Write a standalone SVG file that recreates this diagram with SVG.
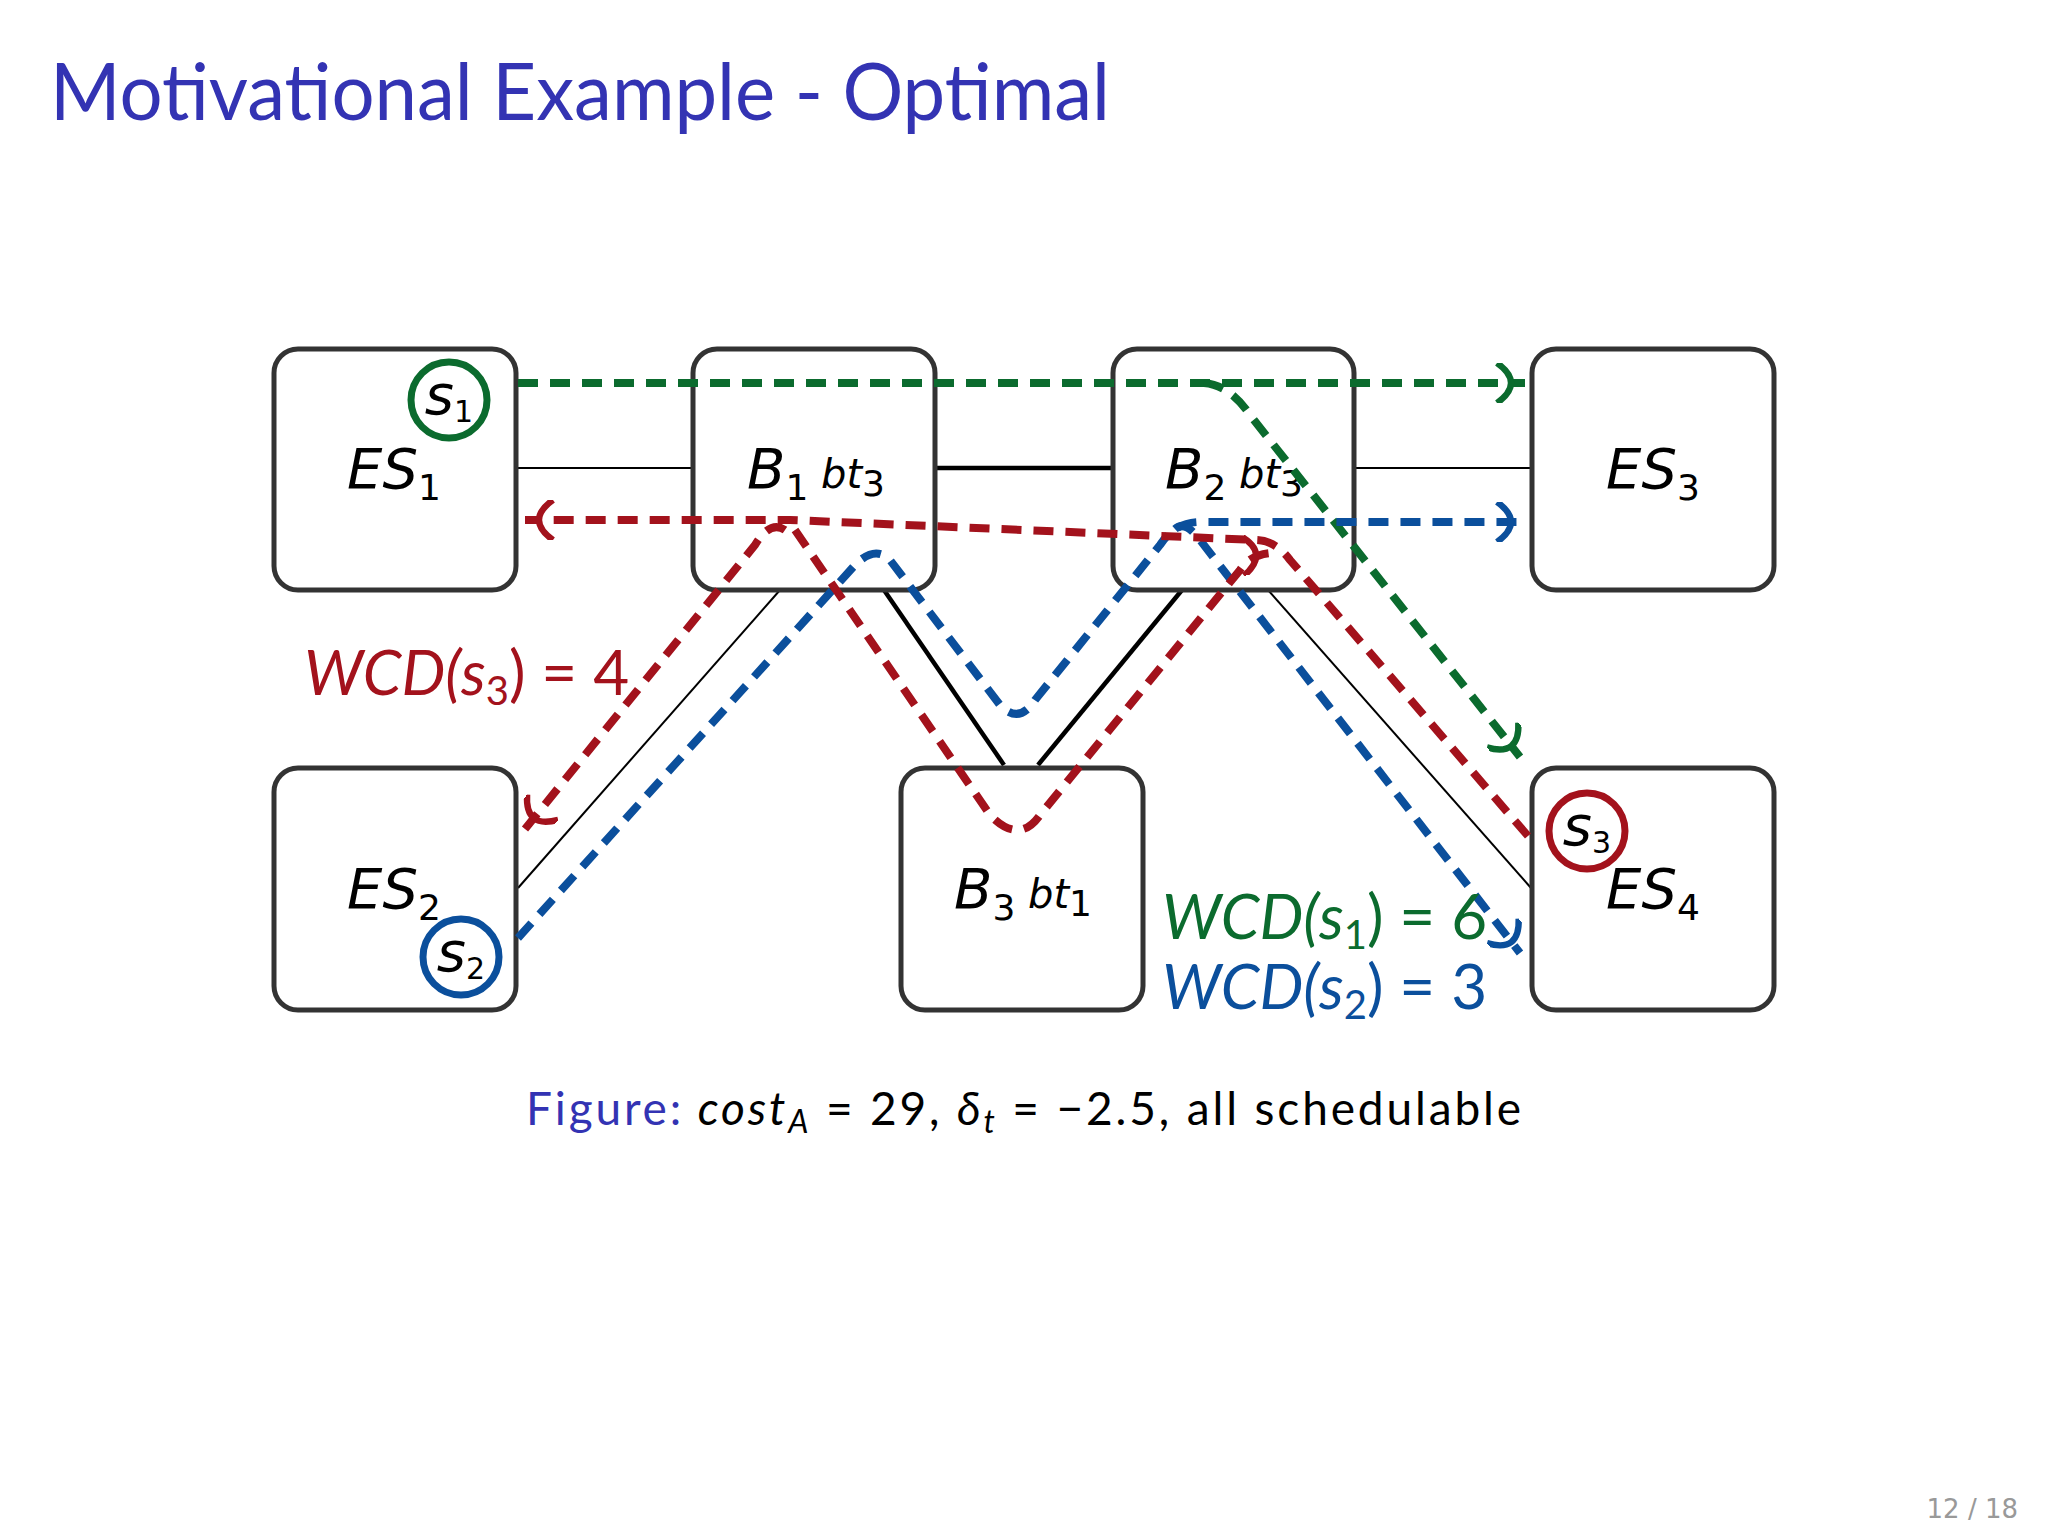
<svg xmlns="http://www.w3.org/2000/svg" width="2048" height="1536" viewBox="0 0 2048 1536">
<defs>
<style>
.box{fill:#fff;stroke:#333;stroke-width:5}
.lbl{font-family:"DejaVu Sans","Liberation Sans",sans-serif;font-style:italic;font-size:56px;fill:#000;text-anchor:middle}
.sub{font-size:36px;font-style:normal}
.thin{stroke:#000;stroke-width:2;fill:none}
.thick{stroke:#000;stroke-width:4.5;fill:none}
.g{stroke:#0b6b2e;stroke-width:8;fill:none;stroke-dasharray:20 12}
.b{stroke:#0b4f9c;stroke-width:8;fill:none;stroke-dasharray:20 12}
.r{stroke:#a3121c;stroke-width:8;fill:none;stroke-dasharray:20 12}
.wcd{font-family:Lato,"DejaVu Sans",sans-serif;font-style:italic;font-size:62px}
</style>
<marker id="ag" viewBox="0 0 10 10" refX="8" refY="5" markerWidth="5" markerHeight="5" orient="auto"><path d="M1,0 Q8,5 1,10" stroke="#0b6b2e" stroke-width="1.6" fill="none"/></marker>
<marker id="ab" viewBox="0 0 10 10" refX="8" refY="5" markerWidth="5" markerHeight="5" orient="auto"><path d="M1,0 Q8,5 1,10" stroke="#0b4f9c" stroke-width="1.6" fill="none"/></marker>
<marker id="ar" viewBox="0 0 10 10" refX="8" refY="5" markerWidth="5" markerHeight="5" orient="auto"><path d="M1,0 Q8,5 1,10" stroke="#a3121c" stroke-width="1.6" fill="none"/></marker>
</defs>
<rect width="2048" height="1536" fill="#fff"/>
<text x="50" y="120" font-family="Lato, DejaVu Sans, sans-serif" font-size="80" fill="#3333b3" textLength="1060" lengthAdjust="spacingAndGlyphs">Motivational Example - Optimal</text>
<g id="links">
<line class="thin" x1="516" y1="468" x2="693" y2="468"/>
<line class="thick" x1="935" y1="468" x2="1113" y2="468"/>
<line class="thin" x1="1354" y1="468" x2="1532" y2="468"/>
<line class="thin" x1="780" y1="590" x2="518" y2="888"/>
<line class="thick" x1="884" y1="590" x2="1004" y2="765"/>
<line class="thick" x1="1182" y1="590" x2="1038" y2="765"/>
<line class="thin" x1="1268" y1="590" x2="1531" y2="888"/>
</g>
<g id="ES1"><rect class="box" x="274" y="349" width="242" height="241" rx="24"/><text class="lbl" x="394" y="488">ES<tspan class="sub" dy="12">1</tspan></text></g>
<g id="B1"><rect class="box" x="693" y="349" width="242" height="241" rx="24"/><text class="lbl" x="816" y="488">B<tspan class="sub" dy="12">1</tspan><tspan dy="-12" font-size="40"> bt</tspan><tspan class="sub" font-size="28" dy="8">3</tspan></text></g>
<g id="B2"><rect class="box" x="1113" y="349" width="241" height="241" rx="24"/><text class="lbl" x="1234" y="488">B<tspan class="sub" dy="12">2</tspan><tspan dy="-12" font-size="40"> bt</tspan><tspan class="sub" font-size="28" dy="8">3</tspan></text></g>
<g id="ES3"><rect class="box" x="1532" y="349" width="242" height="241" rx="24"/><text class="lbl" x="1653" y="488">ES<tspan class="sub" dy="12">3</tspan></text></g>
<g id="ES2"><rect class="box" x="274" y="768" width="242" height="242" rx="24"/><text class="lbl" x="394" y="908">ES<tspan class="sub" dy="12">2</tspan></text></g>
<g id="B3"><rect class="box" x="901" y="768" width="242" height="242" rx="24"/><text class="lbl" x="1023" y="908">B<tspan class="sub" dy="12">3</tspan><tspan dy="-12" font-size="40"> bt</tspan><tspan class="sub" font-size="28" dy="8">1</tspan></text></g>
<g id="ES4"><rect class="box" x="1532" y="768" width="242" height="242" rx="24"/><text class="lbl" x="1653" y="908">ES<tspan class="sub" dy="12">4</tspan></text></g>
<g id="connectors">
<path class="g" d="M518,383 H1525" marker-end="url(#ag)"/>
<path class="g" d="M1204,383 Q1230,385 1250,415 L1520,757" marker-end="url(#ag)"/>
<path class="b" d="M518,938 L855,565 Q875,545 890,560 L1000,705 Q1019,725 1035,700 L1160,545 Q1175,522 1200,522 H1525" marker-end="url(#ab)"/>
<path class="b" d="M1175,529 Q1185,520 1200,540 L1520,953" marker-end="url(#ab)"/>
<path class="r" d="M1528,836 L1290,560 Q1275,540 1255,540 L790,520 H525" marker-end="url(#ar)"/>
<path class="r" d="M795,530 L990,815 Q1019,845 1040,815 L1240,570 Q1250,555 1270,553" marker-end="url(#ar)"/>
<path class="r" d="M785,530 Q770,520 755,545 L525,829" marker-end="url(#ar)"/>
</g>
<g id="s1"><circle cx="449" cy="400" r="38" fill="#fff" stroke="#0b6b2e" stroke-width="7"/><text class="lbl" x="449" y="414" font-size="44">s<tspan font-size="30" font-style="normal" dy="8">1</tspan></text></g>
<g id="s2"><circle cx="461" cy="957" r="38" fill="#fff" stroke="#0b4f9c" stroke-width="7"/><text class="lbl" x="461" y="971" font-size="44">s<tspan font-size="30" font-style="normal" dy="8">2</tspan></text></g>
<g id="s3"><circle cx="1587" cy="831" r="38" fill="#fff" stroke="#a3121c" stroke-width="7"/><text class="lbl" x="1587" y="845" font-size="44">s<tspan font-size="30" font-style="normal" dy="8">3</tspan></text></g>
<text class="wcd" x="304" y="695" fill="#a3121c">WCD(s<tspan font-size="40" font-style="normal" dy="10">3</tspan><tspan dy="-10" font-style="normal">) = 4</tspan></text>
<text class="wcd" x="1162" y="939" fill="#0b6b2e">WCD(s<tspan font-size="40" font-style="normal" dy="10">1</tspan><tspan dy="-10" font-style="normal">) = 6</tspan></text>
<text class="wcd" x="1162" y="1009" fill="#0b4f9c">WCD(s<tspan font-size="40" font-style="normal" dy="10">2</tspan><tspan dy="-10" font-style="normal">) = 3</tspan></text>
<text x="526" y="1125" font-family="Lato, DejaVu Sans, sans-serif" font-size="46" textLength="995" lengthAdjust="spacing"><tspan fill="#3333b3">Figure:</tspan><tspan font-style="italic">  cost</tspan><tspan font-style="italic" font-size="32" dy="8">A</tspan><tspan dy="-8">  =  29, </tspan><tspan font-style="italic">δ</tspan><tspan font-style="italic" font-size="32" dy="8">t</tspan><tspan dy="-8">  =  −2.5, all schedulable</tspan></text>
<text x="2018" y="1518" text-anchor="end" font-family="DejaVu Sans, sans-serif" font-size="26" fill="#999">12 / 18</text>
</svg>
